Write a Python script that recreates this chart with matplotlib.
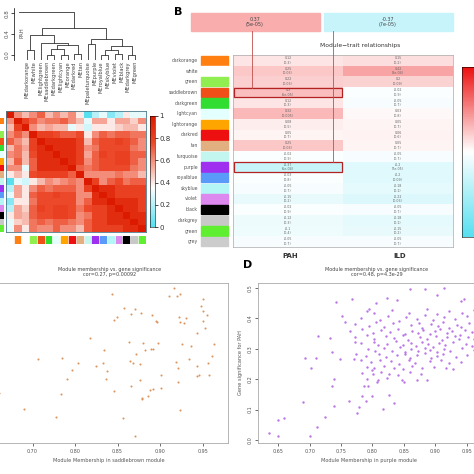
import numpy as np
import matplotlib
matplotlib.use("Agg")
import matplotlib.pyplot as plt
from matplotlib.colors import LinearSegmentedColormap, ListedColormap
from matplotlib.patches import Rectangle

# ---- data ----
me_names = ["MEdarkorange", "MEwhite", "MElightgreen", "MEsaddlebrown", "MEdarkgreen",
            "MElightcyan", "MEorange", "MEdarkred", "MEtan", "MEpaleturquoise", "MEpurple",
            "MEroyalblue", "MEskyblue", "MEviolet", "MEblack", "MEdarkgrey", "MEgreen"]
# rows of eigengene adjacency (tenths, X = 1.0), first row/col = PAH
adj_rows = ["X65675656402312433", "6X8767687535656767", "58X656553404444454",
            "676X88777856777766", "7658X9999857788776", "56589X999856787766",
            "675899X99867888877", "5657999X9957788876", "65379999X866787766",
            "454788876X66656565", "0353575776X8677677", "26467777868X998888",
            "354788888669X98888", "1346777777799X9998", "25578888878889X998",
            "446788888778899X99", "3357777776788999X9", "35476676657888899X"]
dendro_merges = [  # (left node, right node, height); leaves 0..16, new nodes from 17
    (0, 1, 0.20), (3, 4, 0.10), (5, 6, 0.10), (7, 8, 0.12), (18, 19, 0.22),
    (21, 20, 0.28), (2, 22, 0.33), (17, 23, 0.48), (9, 10, 0.30), (11, 12, 0.10),
    (13, 14, 0.12), (15, 16, 0.10), (26, 27, 0.20), (29, 28, 0.26), (25, 30, 0.40),
    (24, 31, 0.62)]

modules = ["darkorange", "white", "green", "saddlebrown", "darkgreen", "lightcyan",
           "lightorange", "darkred", "tan", "turquoise", "purple", "royalblue", "skyblue",
           "violet", "black", "darkgrey", "green", "grey"]
swatch = ["#ff8010", "#ffffff", "#90ee50", "#f05018", "#30dd30", "#e4ffff", "#ffa500",
          "#ee1010", "#e2b080", "#c4f6f0", "#a030f0", "#5a9af8", "#b4f6f6", "#dc88ee",
          "#000000", "#c8c8c8", "#60ee30", "#cccccc"]
cor_pah = [0.12, 0.25, 0.22, 0.30, 0.12, 0.32, 0.08, 0.05, 0.25, -0.02, -0.37, -0.03,
           -0.05, -0.15, -0.02, -0.12, -0.10, -0.05]
cor_ild = [0.15, 0.42, 0.20, -0.02, -0.05, 0.03, 0.05, 0.06, 0.05, -0.05, -0.20, -0.20,
           -0.18, -0.22, -0.05, -0.18, -0.15, -0.05]
p_pah = ["0.3", "0.03", "0.06", "5e-05", "0.3", "0.005", "0.5", "0.7", "0.03", "0.9",
         "5e-04", "0.8", "0.7", "0.2", "0.9", "0.3", "0.4", "0.7"]
p_ild = ["0.2", "3e-04", "0.09", "0.9", "0.7", "0.8", "0.7", "0.6", "0.7", "0.7",
         "7e-05", "0.09", "0.1", "0.06", "0.7", "0.1", "0.2", "0.7"]

sb_x = [0.916, 0.911, 0.920, 0.923, 0.844, 0.951, 0.948, 0.951, 0.955, 0.858, 0.870, 0.866,
        0.878, 0.891, 0.895, 0.897, 0.849, 0.846, 0.922, 0.923, 0.928, 0.931, 0.950, 0.953,
        0.943, 0.818, 0.864, 0.880, 0.898, 0.926, 0.937, 0.834, 0.882, 0.889, 0.892, 0.963,
        0.872, 0.865, 0.868, 0.877, 0.833, 0.838, 0.825, 0.803, 0.796, 0.790, 0.785, 0.757,
        0.836, 0.919, 0.921, 0.934, 0.961, 0.956, 0.943, 0.958, 0.943, 0.946, 0.901, 0.876,
        0.866, 0.846, 0.888, 0.892, 0.901, 0.886, 0.879, 0.879, 0.921, 0.783, 0.740, 0.778,
        0.856, 0.923, 0.870, 0.711]
sb_y = [0.483, 0.460, 0.460, 0.466, 0.465, 0.449, 0.428, 0.414, 0.399, 0.421, 0.418, 0.404,
        0.406, 0.399, 0.382, 0.377, 0.393, 0.383, 0.395, 0.379, 0.374, 0.390, 0.381, 0.360,
        0.345, 0.328, 0.315, 0.313, 0.313, 0.309, 0.302, 0.291, 0.292, 0.293, 0.293, 0.309,
        0.279, 0.255, 0.249, 0.247, 0.249, 0.224, 0.241, 0.249, 0.228, 0.200, 0.265, 0.264,
        0.200, 0.254, 0.235, 0.263, 0.272, 0.249, 0.240, 0.214, 0.209, 0.214, 0.211, 0.196,
        0.179, 0.164, 0.165, 0.168, 0.173, 0.147, 0.142, 0.136, 0.190, 0.153, 0.107, 0.082,
        0.079, 0.103, 0.023, 0.157]

pu_pts = [
    (0.635, 0.023), (0.650, 0.064), (0.650, 0.014), (0.660, 0.073), (0.689, 0.125), (0.692, 0.271),
    (0.700, 0.014), (0.703, 0.238), (0.710, 0.269), (0.712, 0.043), (0.713, 0.341), (0.725, 0.077),
    (0.732, 0.334), (0.735, 0.288), (0.736, 0.179), (0.739, 0.202), (0.739, 0.113), (0.742, 0.454),
    (0.749, 0.266), (0.751, 0.408), (0.757, 0.389), (0.763, 0.129), (0.768, 0.462), (0.770, 0.267),
    (0.772, 0.321), (0.776, 0.088), (0.779, 0.108), (0.784, 0.143), (0.786, 0.179), (0.789, 0.129),
    (0.794, 0.429), (0.793, 0.176), (0.799, 0.231), (0.800, 0.146), (0.806, 0.451), (0.807, 0.191),
    (0.816, 0.103), (0.823, 0.466), (0.826, 0.147), (0.835, 0.120), (0.839, 0.459), (0.850, 0.190),
    (0.859, 0.495), (0.871, 0.196), (0.884, 0.497), (0.886, 0.198), (0.903, 0.476), (0.913, 0.501),
    (0.940, 0.458), (0.945, 0.462), (0.917, 0.238),
    (0.792, 0.424), (0.803, 0.417), (0.831, 0.428), (0.858, 0.419), (0.887, 0.431), (0.902, 0.413),
    (0.921, 0.425), (0.943, 0.418), (0.962, 0.427), (0.781, 0.402), (0.812, 0.396), (0.824, 0.408),
    (0.842, 0.391), (0.853, 0.404), (0.871, 0.399), (0.883, 0.411), (0.897, 0.393), (0.914, 0.405),
    (0.932, 0.398), (0.951, 0.409), (0.968, 0.394), (0.773, 0.382), (0.794, 0.376), (0.806, 0.387),
    (0.818, 0.371), (0.833, 0.384), (0.861, 0.378), (0.874, 0.386), (0.879, 0.369), (0.893, 0.381),
    (0.904, 0.374), (0.912, 0.388), (0.922, 0.367), (0.934, 0.379), (0.941, 0.372), (0.953, 0.385),
    (0.963, 0.376), (0.764, 0.358), (0.784, 0.364), (0.801, 0.352), (0.813, 0.361), (0.828, 0.356),
    (0.841, 0.366), (0.852, 0.349), (0.863, 0.359), (0.872, 0.353), (0.881, 0.362), (0.892, 0.347),
    (0.899, 0.357), (0.908, 0.365), (0.918, 0.351), (0.927, 0.359), (0.939, 0.346), (0.947, 0.362),
    (0.958, 0.354), (0.969, 0.361), (0.772, 0.338), (0.791, 0.344), (0.803, 0.331), (0.822, 0.341),
    (0.834, 0.336), (0.848, 0.344), (0.857, 0.329), (0.876, 0.338), (0.887, 0.332), (0.901, 0.341),
    (0.911, 0.327), (0.919, 0.337), (0.931, 0.343), (0.938, 0.331), (0.952, 0.339), (0.961, 0.333),
    (0.781, 0.318), (0.802, 0.322), (0.809, 0.312), (0.823, 0.317), (0.838, 0.325), (0.849, 0.311),
    (0.861, 0.319), (0.869, 0.308), (0.878, 0.321), (0.889, 0.314), (0.897, 0.306), (0.906, 0.318),
    (0.916, 0.311), (0.928, 0.321), (0.949, 0.315), (0.958, 0.309), (0.971, 0.318), (0.793, 0.298),
    (0.804, 0.291), (0.819, 0.302), (0.831, 0.294), (0.843, 0.305), (0.851, 0.289), (0.862, 0.299),
    (0.872, 0.292), (0.883, 0.303), (0.891, 0.296), (0.903, 0.288), (0.913, 0.299), (0.924, 0.293),
    (0.942, 0.301), (0.962, 0.295), (0.774, 0.281), (0.789, 0.276), (0.811, 0.284), (0.821, 0.272),
    (0.839, 0.279), (0.852, 0.283), (0.859, 0.271), (0.871, 0.278), (0.884, 0.285), (0.893, 0.269),
    (0.902, 0.277), (0.912, 0.283), (0.933, 0.274), (0.951, 0.279), (0.782, 0.262), (0.798, 0.256),
    (0.812, 0.264), (0.829, 0.258), (0.842, 0.251), (0.858, 0.263), (0.868, 0.254), (0.891, 0.259),
    (0.909, 0.262), (0.922, 0.253), (0.941, 0.257), (0.791, 0.241), (0.803, 0.236), (0.818, 0.244),
    (0.834, 0.238), (0.849, 0.232), (0.863, 0.243), (0.879, 0.236), (0.898, 0.241), (0.928, 0.234),
    (0.784, 0.221), (0.801, 0.216), (0.813, 0.224), (0.827, 0.218), (0.841, 0.213), (0.859, 0.222),
    (0.877, 0.217), (0.792, 0.201), (0.809, 0.196), (0.823, 0.204), (0.847, 0.198)]

# ---- figure helpers ----
W = H = 474
fig = plt.figure(figsize=(4.74, 4.74), dpi=100)
fig.patch.set_facecolor("white")


def px_axes(x0, y0, x1, y1, **kw):
    return fig.add_axes([x0 / W, 1 - y1 / H, (x1 - x0) / W, (y1 - y0) / H], **kw)


def ftext(x, y, s, **kw):
    fig.text(x / W, 1 - y / H, s, **kw)


cmap = LinearSegmentedColormap.from_list("bw", [(0, "#58e0f0"), (0.5, "white"), (1, "#ee1010")])
cmap_adj = LinearSegmentedColormap.from_list(
    "adj", [(0, "#58e0f0"), (0.35, "white"), (0.75, "#ec4a2a"), (1, "#dc1a00")])
grey_txt = "#555555"
VMAX = 1.1

# ---- dendrogram ----
axd = px_axes(14, 8, 140, 60)
pos = {i: (float(i), 0.0) for i in range(len(me_names))}
nid = len(me_names)
for a, b, h in dendro_merges:
    xa, ha = pos[a]
    xb, hb = pos[b]
    axd.plot([xa, xa, xb, xb], [ha, h, h, hb], color="#333333", lw=0.6)
    pos[nid] = ((xa + xb) / 2, h)
    nid += 1
xr, hr = pos[nid - 1]
axd.plot([xr, xr, -1.2], [hr, 0.92, 0.92], color="#333333", lw=0.6)
axd.set_xlim(-1.93, 16.74)
axd.set_ylim(0, 1.0)
for s in ["top", "right", "bottom"]:
    axd.spines[s].set_visible(False)
axd.spines["left"].set_linewidth(0.5)
axd.set_xticks([])
axd.set_yticks([0.1, 0.5, 0.9])
axd.set_yticklabels(["0.0", "0.4", "0.8"], rotation=90, va="center", fontsize=4, color=grey_txt)
axd.tick_params(axis="y", length=2, width=0.5, pad=1)
for i, n in enumerate(me_names):
    axd.text(i, -0.02, n, rotation=90, ha="center", va="top", fontsize=3.7, color="#444444")
ftext(22, 33, "PAH", rotation=90, fontsize=4, color=grey_txt, ha="center", va="center")

# ---- eigengene adjacency heatmap ----
adj = np.array([[1.0 if c == "X" else int(c) / 10 for c in r] for r in adj_rows])
adj = (adj + adj.T) / 2
axh = px_axes(6, 111, 146, 232)
axh.imshow(adj, cmap=cmap_adj, vmin=0, vmax=1, aspect="auto", interpolation="nearest")
axh.set_xticks([])
axh.set_yticks([])
for s in axh.spines.values():
    s.set_linewidth(0.6)
    s.set_color("#4a7a8a")
# side strip and bottom colour squares
axs = px_axes(0, 111, 4, 232)
axs.imshow(np.arange(18)[:, None], cmap=ListedColormap(["#ffffff"] + swatch[:17]), aspect="auto")
axs.axis("off")
axb = px_axes(6, 236, 146, 244)
for j in range(1, 18):
    axb.add_patch(Rectangle((j + 0.1 - 0.5, 0), 0.75, 1, color=swatch[j - 1]))
axb.set_xlim(-0.5, 17.5)
axb.set_ylim(0, 1)
axb.axis("off")
# colorbar
axc = px_axes(150, 116, 155, 227)
axc.imshow(np.linspace(1, 0, 100)[:, None], cmap=cmap_adj, aspect="auto", extent=[0, 1, 0, 1])
axc.set_xticks([])
axc.yaxis.tick_right()
axc.set_yticks([0, 0.2, 0.4, 0.6, 0.8, 1])
axc.set_yticklabels(["0", "0.2", "0.4", "0.6", "0.8", "1"], fontsize=5, color="#333333")
axc.tick_params(axis="y", length=2, width=0.5, pad=1)
for s in axc.spines.values():
    s.set_linewidth(0.4)

# ---- panel B ----
ftext(178, 12, "B", fontsize=8, fontweight="bold", ha="center", va="center")
axt = px_axes(0, 0, 474, 474)
axt.set_xlim(0, W)
axt.set_ylim(H, 0)
axt.axis("off")
axt.set_zorder(10)
axt.patch.set_alpha(0)
axt.add_patch(Rectangle((191, 13), 129, 18, color=cmap(0.5 + 0.37 / (2 * VMAX))))
axt.add_patch(Rectangle((324, 13), 129, 18, color=cmap(0.5 - 0.37 / (2 * VMAX))))
axt.text(255, 22, "0.37\n(5e-05)", fontsize=3.5, ha="center", va="center", color="#444444")
axt.text(388, 22, "-0.37\n(7e-05)", fontsize=3.5, ha="center", va="center", color="#444444")
ftext(360, 46, "Module\u2212trait relationships", fontsize=4.3, ha="center", va="center", color="#333333")

n = len(modules)
y0, y1 = 55, 247
rh = (y1 - y0) / n
axm = px_axes(233, y0, 453, y1)
mat = np.array([cor_pah, cor_ild]).T
axm.imshow(mat, cmap=cmap, vmin=-VMAX, vmax=VMAX, aspect="auto", interpolation="nearest")
axm.set_xticks([])
axm.set_yticks([])
for s in axm.spines.values():
    s.set_color("#aaaaaa")
    s.set_linewidth(0.5)
for i in range(n):
    axm.text(0, i, f"{cor_pah[i]:.2g}\n({p_pah[i]})", fontsize=2.3, ha="center", va="center", color="#666666")
    axm.text(1, i, f"{cor_ild[i]:.2g}\n({p_ild[i]})", fontsize=2.3, ha="center", va="center", color="#666666")
for i, (m, c) in enumerate(zip(modules, swatch)):
    yy = y0 + (i + 0.5) * rh
    axt.add_patch(Rectangle((201, y0 + i * rh + 0.8), 27, rh - 1.6, color=c))
    axt.text(198, yy, m, fontsize=3.3, ha="right", va="center", color=grey_txt)
# highlight boxes and connecting lines
for row, lx in [(3, 252), (10, 333)]:
    ry = y0 + row * rh
    axt.add_patch(Rectangle((234, ry + 0.5), 108, rh - 1, fill=False, ec="#b22222", lw=0.9))
    axt.plot([lx, lx], [31, ry + 0.5], color="#c0504d", lw=0.6)
# right colourbar
axc2 = px_axes(462, 67, 474, 237)
axc2.imshow(np.linspace(1, 0, 100)[:, None], cmap=cmap, aspect="auto")
axc2.set_xticks([])
axc2.set_yticks([])
for s in axc2.spines.values():
    s.set_linewidth(0.4)
ftext(290, 256, "PAH", fontsize=5, fontweight="bold", ha="center", va="center", color="#333333")
ftext(400, 256, "ILD", fontsize=5, fontweight="bold", ha="center", va="center", color="#333333")

# ---- bottom left scatter ----
axl = px_axes(-10, 283, 228, 443)
axl.scatter(sb_x, sb_y, s=2.2, color="#d98850", alpha=0.9, linewidths=0)
axl.set_xlim(0.700, 0.98)
axl.set_ylim(0, 0.5)
axl.set_xticks([0.75, 0.80, 0.85, 0.90, 0.95])
axl.set_xticklabels(["0.70", "0.80", "0.85", "0.90", "0.95"])
axl.set_yticks([])
axl.tick_params(axis="x", labelsize=3.5, length=2, width=0.4, pad=2, labelcolor=grey_txt)
for s in axl.spines.values():
    s.set_color("#aaaaaa")
    s.set_linewidth(0.6)
axl.set_xlabel("Module Membership in saddlebrown module", fontsize=3.6, color=grey_txt, labelpad=3)
ftext(110, 272, "Module membership vs. gene significance\ncor=0.27, p=0.00092", fontsize=3.5,
      ha="center", va="center", color="#444444")

# ---- panel D scatter ----
ftext(248, 265, "D", fontsize=8, fontweight="bold", ha="center", va="center")
axr = px_axes(258, 283, 480, 443)
axr.scatter([p[0] for p in pu_pts], [p[1] for p in pu_pts], s=3, color="#a448e0", alpha=0.75, linewidths=0)
axr.set_xlim(0.618, 0.971)
axr.set_ylim(-0.01, 0.516)
axr.set_xticks([0.65, 0.70, 0.75, 0.80, 0.85, 0.90, 0.95])
axr.set_yticks([0.0, 0.1, 0.2, 0.3, 0.4, 0.5])
axr.set_yticklabels(["0.0", "0.1", "0.2", "0.3", "0.4", "0.5"], rotation=90, va="center")
axr.tick_params(labelsize=3.5, length=2, width=0.4, pad=2, labelcolor=grey_txt)
for s in axr.spines.values():
    s.set_color("#aaaaaa")
    s.set_linewidth(0.6)
axr.set_xlabel("Module Membership in purple module", fontsize=3.6, color=grey_txt, labelpad=3)
axr.set_ylabel("Gene significance for PAH", fontsize=3.6, color=grey_txt, labelpad=3)
ftext(377, 272, "Module membership vs. gene significance\ncor=0.48, p=4.3e-29", fontsize=3.5,
      ha="center", va="center", color="#444444")

fig.savefig("out.png", dpi=100)
